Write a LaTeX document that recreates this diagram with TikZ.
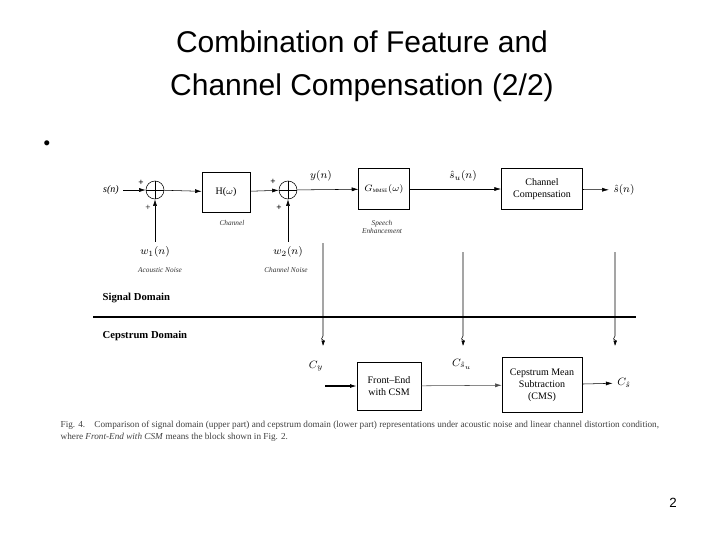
\documentclass[tikz,border=0pt]{standalone}
\usepackage{fontspec}
\setmainfont{Liberation Serif}
\newfontfamily\sansf{Liberation Sans}
\usetikzlibrary{arrows.meta}
\begin{document}
\begin{tikzpicture}[x=0.75pt,y=-0.75pt,
  sig/.style={-{Latex[length=5pt,width=3pt]}},
  lab/.style={font=\fontsize{8}{9}\selectfont},
  note/.style={font=\itshape\fontsize{5.5}{6.5}\selectfont,align=center,text=black!80},
  sm/.style={circle,draw,minimum size=13.5pt,inner sep=0pt}]
\useasboundingbox (0,0) rectangle (720,540);
\node[font=\sansf\fontsize{22.5}{32}\selectfont,align=center] (title) at (362,66) {Combination of Feature and\\Channel Compensation (2/2)};
\node[font=\sansf\fontsize{14}{16}\selectfont] (bul) at (47,145) {•};
% upper
\node[lab,font=\itshape\fontsize{7.5}{8}\selectfont] (s) at (111,190) {s(n)};
\node[sm] (s1) at (155,190) {};
\draw (s1.north) -- (s1.south) (s1.west) -- (s1.east);
\node[draw,minimum width=36pt,minimum height=30pt,inner sep=0pt,font=\fontsize{7.5}{8}\selectfont] (H) at (226,192) {H($\omega$)};
\node[sm] (s2) at (288,190) {};
\draw (s2.north) -- (s2.south) (s2.west) -- (s2.east);
\node[draw,minimum width=38pt,minimum height=31pt,inner sep=0pt,font=\fontsize{7.5}{8}\selectfont] (G) at (384,189) {$G_{\scriptscriptstyle\rm MMSE}(\omega)$};
\node[draw,minimum width=61pt,minimum height=31pt,inner sep=0pt,align=center,font=\fontsize{7.5}{9.5}\selectfont] (CC) at (542,189) {Channel\\Compensation};
\node[lab] (sh) at (624,190) {$\hat{s}(n)$};
\node[lab] (w1) at (155,252) {$w_1(n)$};
\node[lab] (w2) at (288,252) {$w_2(n)$};
\node[note] (an) at (160,270) {Acoustic Noise};
\node[note] (cn) at (286,270) {Channel Noise};
\node[note] (ch) at (232,223) {Channel};
\node[note] (se) at (382,227) {Speech\\Enhancement};
\node[lab] (yn) at (321,176) {$y(n)$};
\node[lab] (su) at (463,176) {$\hat{s}_u(n)$};
\node[font=\bfseries\fontsize{7}{7}\selectfont] (p1) at (141,183) {+};
\node[font=\fontsize{7}{7}\selectfont] (p2) at (148,208) {+};
\node[font=\bfseries\fontsize{7}{7}\selectfont] (p3) at (273,182) {+};
\node[font=\bfseries\fontsize{7}{7}\selectfont] (p4) at (279,208) {+};
\draw[sig] (s) -- (s1);
\draw[sig] (s1) -- (H);
\draw[sig] (H) -- (s2);
\draw[sig] (s2) -- (G);
\draw[sig] (G) -- (CC);
\draw[sig] (CC) -- (sh);
\draw[sig] (w1.north) -- (s1);
\draw[sig] (w2.north) -- (s2);
% domains
\coordinate (la) at (93,317);
\coordinate (lb) at (636,317);
\draw[line width=1.6pt] (la) -- (lb);
\node[font=\bfseries\fontsize{8}{9}\selectfont,anchor=west] (sd) at (98,298) {Signal Domain};
\node[font=\bfseries\fontsize{8}{9}\selectfont,anchor=west] (cd) at (98,336) {Cepstrum Domain};
\foreach \x/\t in {323/243,463/252,615/252}{
  \draw (\x,\t) -- (\x,336) -- (\x-1.5,339) -- (\x+1.5,341) -- (\x,345);
  \draw[-{Latex[length=4pt,width=2.5pt]}] (\x,341) -- (\x,346);
}
% lower
\node[lab] (cy) at (316,366) {$C_y$};
\coordinate (cya) at (325,386);
\node[draw,minimum width=48pt,minimum height=36pt,inner sep=0pt,align=center,font=\fontsize{7.5}{9}\selectfont] (FE) at (389,386) {Front--End\\with CSM};
\node[lab] (cs) at (462,364) {$C_{\hat{s}_u}$};
\node[draw,minimum width=60pt,minimum height=41pt,inner sep=0pt,align=center,font=\fontsize{7.5}{9}\selectfont] (CMS) at (542,385) {Cepstrum Mean\\Subtraction\\(CMS)};
\node[lab] (cout) at (624,383) {$C_{\hat{s}}$};
\draw[sig,thick] (cya) -- (FE);
\draw[sig,black!70] (FE) -- (CMS);
\draw[sig] (CMS) -- (cout);
\node[anchor=west,align=left,font=\fontsize{6.9}{9}\selectfont,text=black!75] (cap) at (56,431) {Fig. 4.\quad Comparison of signal domain (upper part) and cepstrum domain (lower part) representations under acoustic noise and linear channel distortion condition,\\where \textit{Front-End with CSM} means the block shown in Fig. 2.};
\node[font=\sansf\fontsize{10}{12}\selectfont] (pg) at (673,503) {2};
\end{tikzpicture}
\end{document}
